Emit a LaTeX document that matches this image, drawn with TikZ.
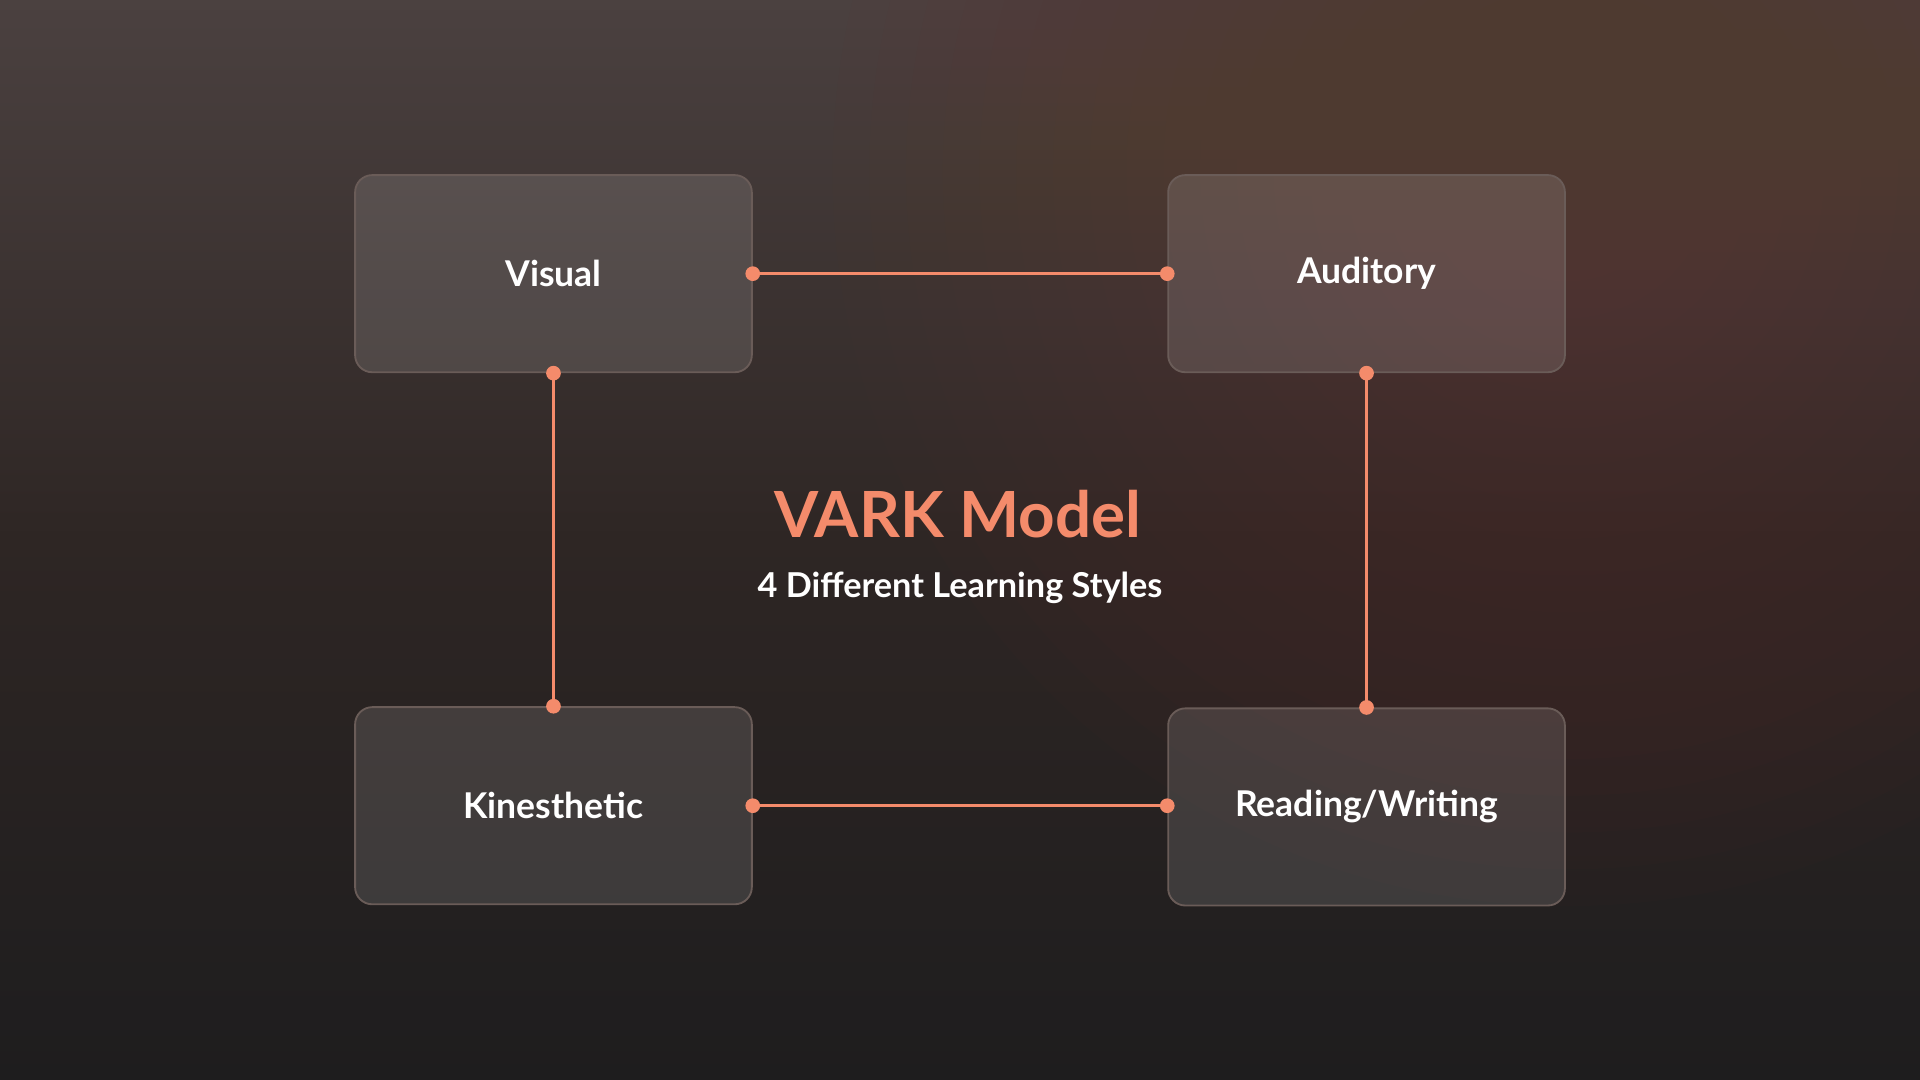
\documentclass[tikz,border=0pt]{standalone}
\usepackage{fontspec}
\setmainfont{Lato}
\definecolor{bgTL}{HTML}{4B4140}
\definecolor{bgM}{HTML}{2E2624}
\definecolor{bgB}{HTML}{1E1D1E}
\definecolor{warm}{HTML}{6A3A30}
\definecolor{acc}{HTML}{F48B6B}
\definecolor{edge}{HTML}{6A5C58}
\begin{document}
\begin{tikzpicture}[x=1pt,y=-1pt,
  box/.style={draw=edge,line width=1.5pt,rounded corners=14pt,minimum width=324pt,minimum height=161pt,
    text=white,font=\fontsize{29}{34}\selectfont\bfseries,fill=white,fill opacity=0.12,text opacity=1},
  link/.style={draw=acc,line width=2.5pt},
  dot/.style={circle,fill=acc,inner sep=0pt,minimum size=12pt}]
\useasboundingbox (0,0) rectangle (1568,882);
\shade[top color=bgTL,bottom color=bgB,middle color=bgM] (0,0) rectangle (1568,882);
\begin{scope}
\clip (0,0) rectangle (1568,882);
\foreach \r in {600,570,...,60} \fill[warm,opacity=0.035] (1280,140) circle (\r);
\end{scope}
\node[box] (v) at (452,223.5) {\raisebox{-3pt}{Visual}};
\node[box] (a) at (1116,223.5) {\raisebox{-3pt}{Auditory}};
\node[box] (k) at (452,658) {\raisebox{-3pt}{Kinesthetic}};
\node[box] (r) at (1116,659) {\raisebox{-3pt}{Reading/Writing}};
\node[text=acc,font=\fontsize{52}{60}\selectfont\bfseries] (t) at (782,420) {VARK Model};
\node[text=white,font=\fontsize{28}{32}\selectfont\bfseries] (s) at (784,480) {4 Different Learning Styles};
\coordinate (v1) at (v.east); \coordinate (a1) at (a.west);
\coordinate (k1) at (k.east); \coordinate (r1) at (k.east -| r.west);
\coordinate (v2) at (v.south); \coordinate (k2) at (k.north);
\coordinate (a2) at (a.south); \coordinate (r2) at (r.north);
\draw[link] (v1) -- (a1); \draw[link] (k1) -- (r1);
\draw[link] (v2) -- (k2); \draw[link] (a2) -- (r2);
\foreach \p in {v1,a1,k1,r1,v2,k2,a2,r2} \node[dot] at (\p) {};
\end{tikzpicture}
\end{document}
